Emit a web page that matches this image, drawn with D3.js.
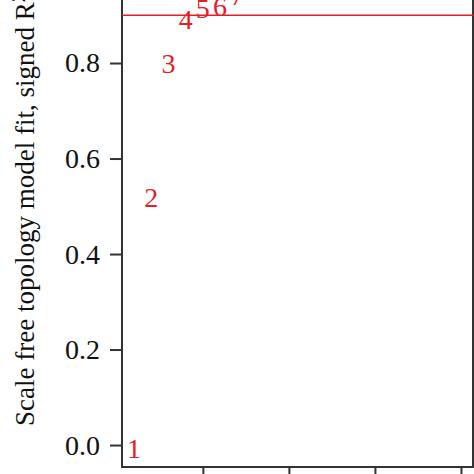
<!DOCTYPE html>
<html>
<head>
<meta charset="utf-8">
<script src="https://cdn.jsdelivr.net/npm/d3@7"></script>
<style>
  html, body { margin: 0; padding: 0; background: #fff; }
  svg { display: block; }
  text { font-family: "Liberation Serif", "DejaVu Serif", serif; }
</style>
</head>
<body>
<div id="chart"></div>
<script>
// soft-threshold powers and their signed R^2 (only those visible in the crop)
const powers = [1, 2, 3, 4, 5, 6, 7];
const fitR2 = [-0.006, 0.519, 0.800, 0.892, 0.915, 0.919, 0.942];
const cutoff = 0.90;
const yTicks = [0, 0.2, 0.4, 0.6, 0.8];
const xTicks = [5, 10, 15, 20];
const yLabel = "Scale free topology model fit, signed R";

const W = 474, H = 474;
const m = {l: 122, r: 1, b: 7};
const red = "#e31e27";
const ink = "#333";
const fs = "28px";

const scaleX = d3.scaleLinear()
	.domain([0.3, 20.7])
	.range([m.l, W - m.r]);

const scaleY = d3.scaleLinear()
	.domain([-0.046, 0.932])
	.range([H - m.b, 0]);

const svg = d3.select("#chart")
	.append("svg")
	.attr("width", W)
	.attr("height", H);

// plot box (top runs off the crop)
svg.append("rect")
	.attr("x", scaleX(0.3))
	.attr("y", scaleY(1.1))
	.attr("width", scaleX(20.7) - scaleX(0.3))
	.attr("height", scaleY(-0.046) - scaleY(1.1))
	.attr("fill", "none")
	.attr("stroke", ink)
	.attr("stroke-width", 2);

const axisY = d3.axisLeft(scaleY)
	.tickValues(yTicks)
	.tickSize(12)
	.tickPadding(10)
	.tickFormat(d3.format(".1f"));

// x tick labels sit below the crop
const axisX = d3.axisBottom(scaleX)
	.tickValues(xTicks)
	.tickSize(12)
	.tickFormat("");

const gy = svg.append("g")
	.attr("transform", `translate(${m.l},0)`)
	.call(axisY);
const gx = svg.append("g")
	.attr("transform", `translate(0,${H - m.b})`)
	.call(axisX);

[gy, gx].forEach(g => {
	g.select(".domain").remove();
	g.selectAll(".tick line").attr("stroke", ink).attr("stroke-width", 2);
	g.selectAll(".tick text")
		.attr("fill", "#111")
		.style("font-family", '"Liberation Serif", serif')
		.style("font-size", fs);
});

// y label
svg.append("text")
	.attr("transform", `translate(34,${scaleY(0.04)}) rotate(-90)`)
	.attr("text-anchor", "start")
	.attr("fill", "#111")
	.style("font-size", "27px")
	.text(yLabel)
	.append("tspan")
	.attr("dy", "-0.5em")
	.style("font-size", "18px")
	.text("2");

// cutoff line
svg.append("line")
	.attr("x1", scaleX(0.3))
	.attr("x2", scaleX(20.7))
	.attr("y1", scaleY(cutoff))
	.attr("y2", scaleY(cutoff))
	.attr("stroke", red)
	.attr("stroke-width", 1.6);

// power labels as points
svg.append("g")
	.selectAll("text")
	.data(powers.map((p, i) => ({p, v: fitR2[i]})))
	.join("text")
	.attr("x", d => scaleX(d.p))
	.attr("y", d => scaleY(d.v))
	.attr("dy", "0.35em")
	.attr("text-anchor", "middle")
	.attr("fill", red)
	.style("font-size", fs)
	.text(d => d.p);
</script>
</body>
</html>
